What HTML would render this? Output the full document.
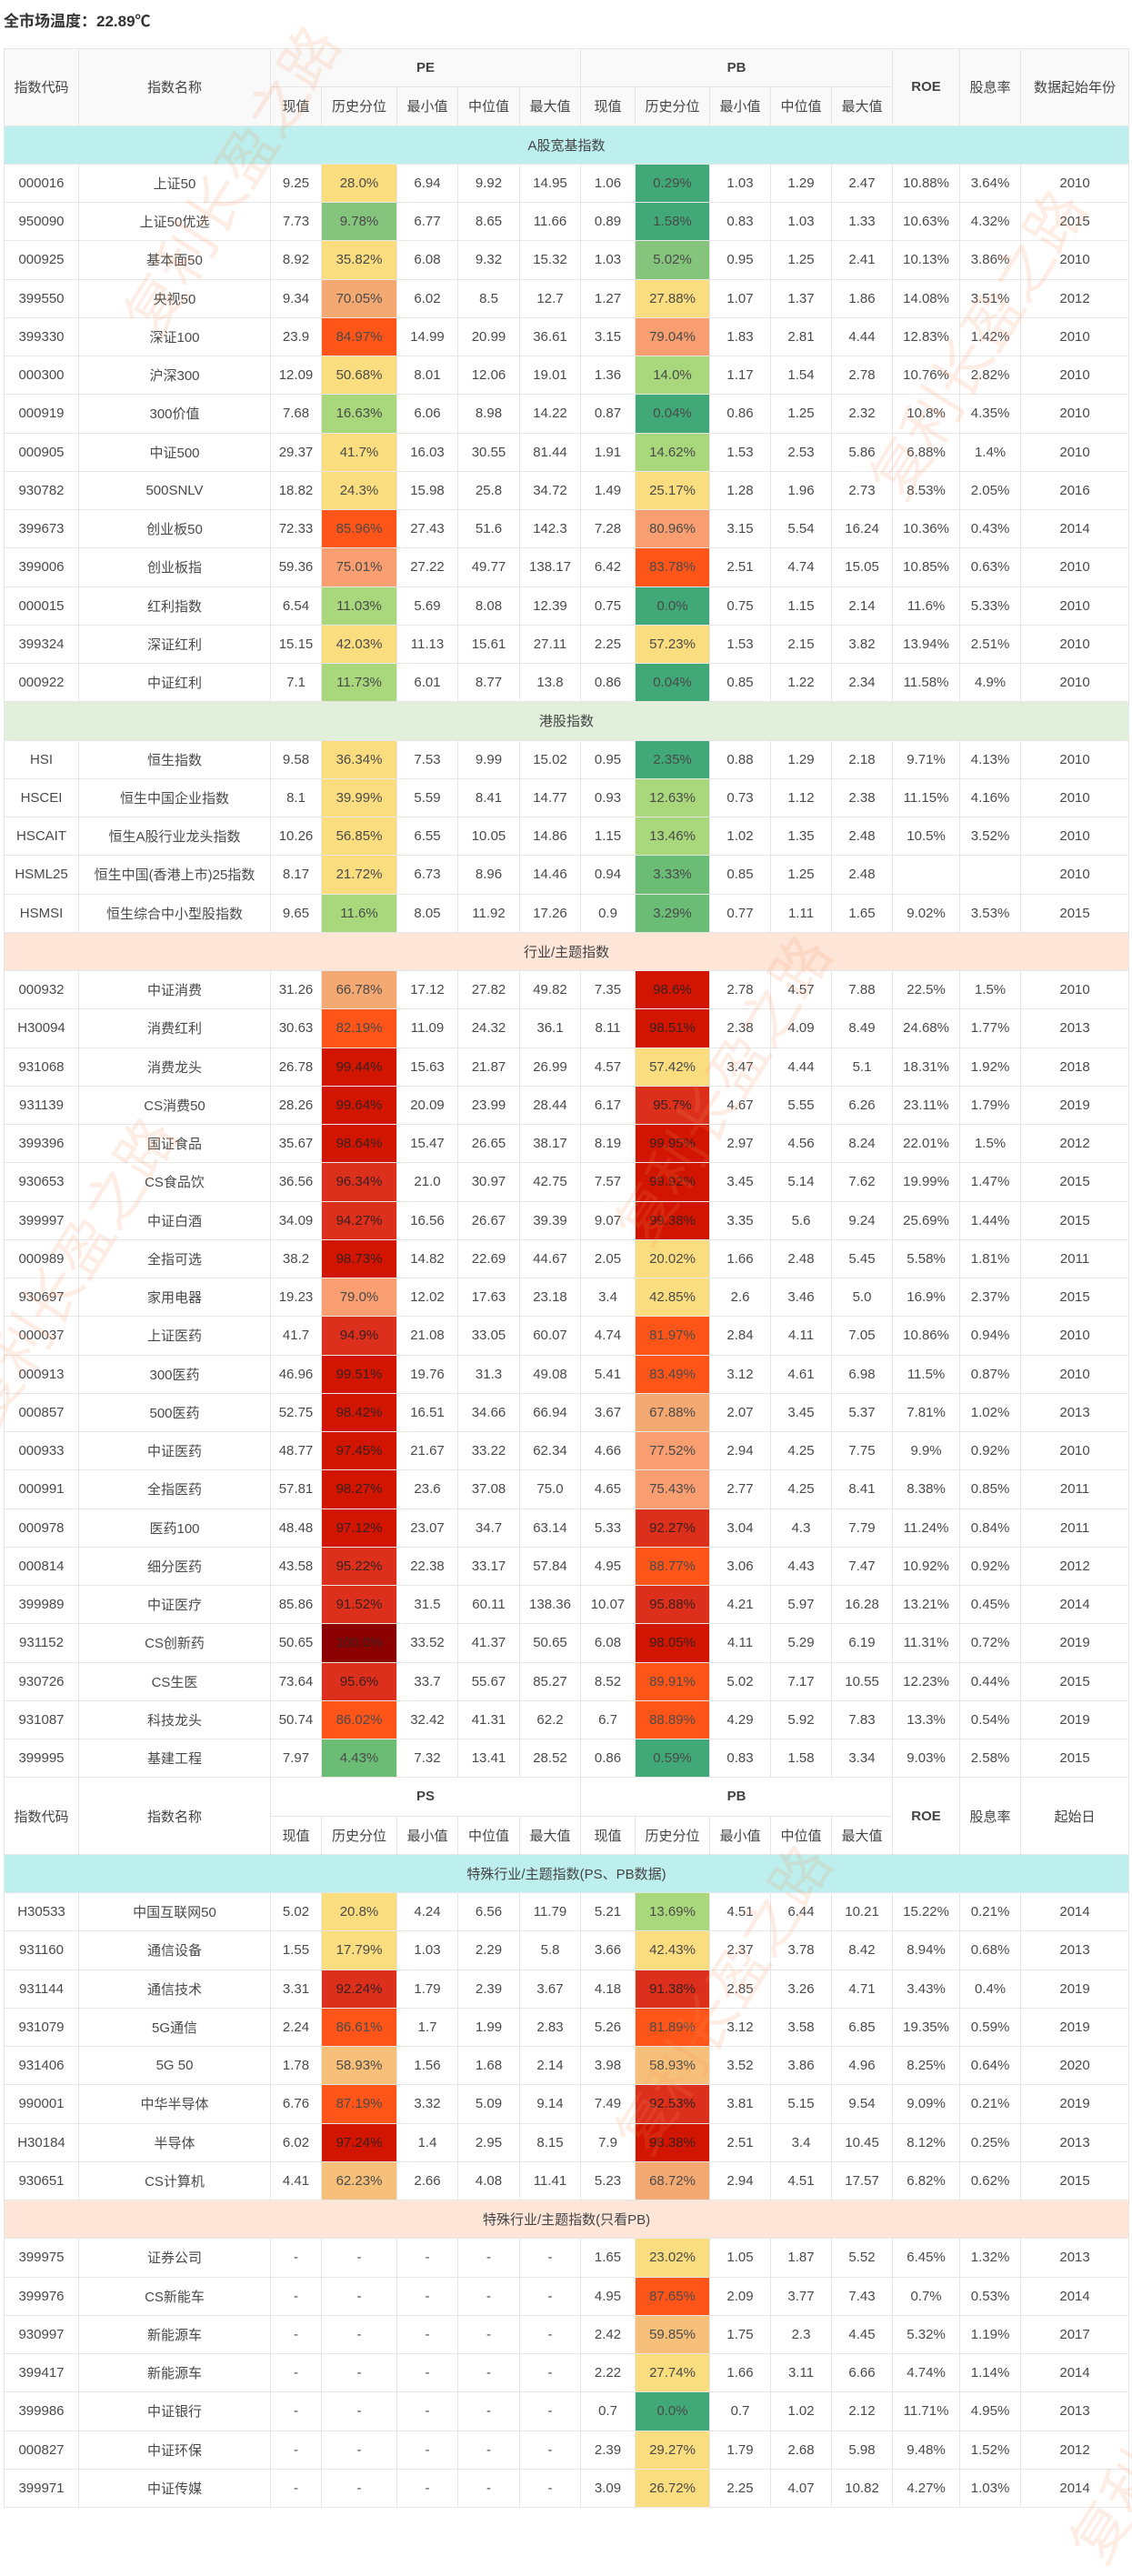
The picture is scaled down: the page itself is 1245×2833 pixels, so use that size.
<!DOCTYPE html>
<html><head><meta charset="utf-8">
<style>
body{margin:0;width:1245px;height:2818px;background:#fff;position:relative;overflow:hidden;font-family:"Liberation Sans","Noto Sans CJK SC",sans-serif;color:#4a4a4a}
.t{position:absolute;left:4px;top:9px;font-size:17px;font-weight:bold;color:#333}
table{position:absolute;left:4px;top:53px;border-collapse:collapse;table-layout:fixed;width:1237px;font-size:15px}
td,th{border:1px solid #e6e6e6;height:41.25px;padding:0;text-align:center;white-space:nowrap;overflow:hidden}
th{font-weight:normal;color:#444;background:#f9f9f9}
th.b{font-weight:bold}
.h2 th{background:#fff}
.sa td{background:#bdefee;color:#444}
.sh td{background:#e2efda;color:#444}
.si td{background:#fde5d8;color:#444}
.g0{background:#41a877}.g1{background:#6bbd76}.g2{background:#85c47d}.g3{background:#a8d87b}
.y{background:#fadd7f}.o1{background:#f7c07a}.o2{background:#f4a872}.o3{background:#f99e70}
.r1{background:#ff5518}.r2{background:#dc2f1c}.r3{background:#d11500}.r4{background:#8b0000}
.r2,.r3,.r4{color:#3a2020}
.wm{position:absolute;font-size:64px;color:rgba(250,140,90,0.16);transform:rotate(-58deg);white-space:nowrap;pointer-events:none;font-family:"Noto Sans CJK SC",sans-serif}
</style></head><body>
<div class="t">全市场温度：22.89℃</div>
<table>
<colgroup><col style="width:82px"><col style="width:211px"><col style="width:56px"><col style="width:83px"><col style="width:67px"><col style="width:68px"><col style="width:67px"><col style="width:60px"><col style="width:82px"><col style="width:67px"><col style="width:67px"><col style="width:67px"><col style="width:74px"><col style="width:67px"><col style="width:119px"></colgroup>
<tr><th rowspan="2">指数代码</th><th rowspan="2">指数名称</th><th colspan="5" class="b">PE</th><th colspan="5" class="b">PB</th><th rowspan="2" class="b">ROE</th><th rowspan="2">股息率</th><th rowspan="2">数据起始年份</th></tr>
<tr><th>现值</th><th>历史分位</th><th>最小值</th><th>中位值</th><th>最大值</th><th>现值</th><th>历史分位</th><th>最小值</th><th>中位值</th><th>最大值</th></tr>
<tr class="sa"><td colspan="15">A股宽基指数</td></tr>
<tr><td>000016</td><td>上证50</td><td>9.25</td><td class="y">28.0%</td><td>6.94</td><td>9.92</td><td>14.95</td><td>1.06</td><td class="g0">0.29%</td><td>1.03</td><td>1.29</td><td>2.47</td><td>10.88%</td><td>3.64%</td><td>2010</td></tr>
<tr><td>950090</td><td>上证50优选</td><td>7.73</td><td class="g2">9.78%</td><td>6.77</td><td>8.65</td><td>11.66</td><td>0.89</td><td class="g0">1.58%</td><td>0.83</td><td>1.03</td><td>1.33</td><td>10.63%</td><td>4.32%</td><td>2015</td></tr>
<tr><td>000925</td><td>基本面50</td><td>8.92</td><td class="y">35.82%</td><td>6.08</td><td>9.32</td><td>15.32</td><td>1.03</td><td class="g2">5.02%</td><td>0.95</td><td>1.25</td><td>2.41</td><td>10.13%</td><td>3.86%</td><td>2010</td></tr>
<tr><td>399550</td><td>央视50</td><td>9.34</td><td class="o2">70.05%</td><td>6.02</td><td>8.5</td><td>12.7</td><td>1.27</td><td class="y">27.88%</td><td>1.07</td><td>1.37</td><td>1.86</td><td>14.08%</td><td>3.51%</td><td>2012</td></tr>
<tr><td>399330</td><td>深证100</td><td>23.9</td><td class="r1">84.97%</td><td>14.99</td><td>20.99</td><td>36.61</td><td>3.15</td><td class="o3">79.04%</td><td>1.83</td><td>2.81</td><td>4.44</td><td>12.83%</td><td>1.42%</td><td>2010</td></tr>
<tr><td>000300</td><td>沪深300</td><td>12.09</td><td class="y">50.68%</td><td>8.01</td><td>12.06</td><td>19.01</td><td>1.36</td><td class="g3">14.0%</td><td>1.17</td><td>1.54</td><td>2.78</td><td>10.76%</td><td>2.82%</td><td>2010</td></tr>
<tr><td>000919</td><td>300价值</td><td>7.68</td><td class="g3">16.63%</td><td>6.06</td><td>8.98</td><td>14.22</td><td>0.87</td><td class="g0">0.04%</td><td>0.86</td><td>1.25</td><td>2.32</td><td>10.8%</td><td>4.35%</td><td>2010</td></tr>
<tr><td>000905</td><td>中证500</td><td>29.37</td><td class="y">41.7%</td><td>16.03</td><td>30.55</td><td>81.44</td><td>1.91</td><td class="g3">14.62%</td><td>1.53</td><td>2.53</td><td>5.86</td><td>6.88%</td><td>1.4%</td><td>2010</td></tr>
<tr><td>930782</td><td>500SNLV</td><td>18.82</td><td class="y">24.3%</td><td>15.98</td><td>25.8</td><td>34.72</td><td>1.49</td><td class="y">25.17%</td><td>1.28</td><td>1.96</td><td>2.73</td><td>8.53%</td><td>2.05%</td><td>2016</td></tr>
<tr><td>399673</td><td>创业板50</td><td>72.33</td><td class="r1">85.96%</td><td>27.43</td><td>51.6</td><td>142.3</td><td>7.28</td><td class="o3">80.96%</td><td>3.15</td><td>5.54</td><td>16.24</td><td>10.36%</td><td>0.43%</td><td>2014</td></tr>
<tr><td>399006</td><td>创业板指</td><td>59.36</td><td class="o3">75.01%</td><td>27.22</td><td>49.77</td><td>138.17</td><td>6.42</td><td class="r1">83.78%</td><td>2.51</td><td>4.74</td><td>15.05</td><td>10.85%</td><td>0.63%</td><td>2010</td></tr>
<tr><td>000015</td><td>红利指数</td><td>6.54</td><td class="g3">11.03%</td><td>5.69</td><td>8.08</td><td>12.39</td><td>0.75</td><td class="g0">0.0%</td><td>0.75</td><td>1.15</td><td>2.14</td><td>11.6%</td><td>5.33%</td><td>2010</td></tr>
<tr><td>399324</td><td>深证红利</td><td>15.15</td><td class="y">42.03%</td><td>11.13</td><td>15.61</td><td>27.11</td><td>2.25</td><td class="y">57.23%</td><td>1.53</td><td>2.15</td><td>3.82</td><td>13.94%</td><td>2.51%</td><td>2010</td></tr>
<tr><td>000922</td><td>中证红利</td><td>7.1</td><td class="g3">11.73%</td><td>6.01</td><td>8.77</td><td>13.8</td><td>0.86</td><td class="g0">0.04%</td><td>0.85</td><td>1.22</td><td>2.34</td><td>11.58%</td><td>4.9%</td><td>2010</td></tr>
<tr class="sh"><td colspan="15">港股指数</td></tr>
<tr><td>HSI</td><td>恒生指数</td><td>9.58</td><td class="y">36.34%</td><td>7.53</td><td>9.99</td><td>15.02</td><td>0.95</td><td class="g0">2.35%</td><td>0.88</td><td>1.29</td><td>2.18</td><td>9.71%</td><td>4.13%</td><td>2010</td></tr>
<tr><td>HSCEI</td><td>恒生中国企业指数</td><td>8.1</td><td class="y">39.99%</td><td>5.59</td><td>8.41</td><td>14.77</td><td>0.93</td><td class="g3">12.63%</td><td>0.73</td><td>1.12</td><td>2.38</td><td>11.15%</td><td>4.16%</td><td>2010</td></tr>
<tr><td>HSCAIT</td><td>恒生A股行业龙头指数</td><td>10.26</td><td class="y">56.85%</td><td>6.55</td><td>10.05</td><td>14.86</td><td>1.15</td><td class="g3">13.46%</td><td>1.02</td><td>1.35</td><td>2.48</td><td>10.5%</td><td>3.52%</td><td>2010</td></tr>
<tr><td>HSML25</td><td>恒生中国(香港上市)25指数</td><td>8.17</td><td class="y">21.72%</td><td>6.73</td><td>8.96</td><td>14.46</td><td>0.94</td><td class="g1">3.33%</td><td>0.85</td><td>1.25</td><td>2.48</td><td></td><td></td><td>2010</td></tr>
<tr><td>HSMSI</td><td>恒生综合中小型股指数</td><td>9.65</td><td class="g3">11.6%</td><td>8.05</td><td>11.92</td><td>17.26</td><td>0.9</td><td class="g1">3.29%</td><td>0.77</td><td>1.11</td><td>1.65</td><td>9.02%</td><td>3.53%</td><td>2015</td></tr>
<tr class="si"><td colspan="15">行业/主题指数</td></tr>
<tr><td>000932</td><td>中证消费</td><td>31.26</td><td class="o2">66.78%</td><td>17.12</td><td>27.82</td><td>49.82</td><td>7.35</td><td class="r3">98.6%</td><td>2.78</td><td>4.57</td><td>7.88</td><td>22.5%</td><td>1.5%</td><td>2010</td></tr>
<tr><td>H30094</td><td>消费红利</td><td>30.63</td><td class="r1">82.19%</td><td>11.09</td><td>24.32</td><td>36.1</td><td>8.11</td><td class="r3">98.51%</td><td>2.38</td><td>4.09</td><td>8.49</td><td>24.68%</td><td>1.77%</td><td>2013</td></tr>
<tr><td>931068</td><td>消费龙头</td><td>26.78</td><td class="r3">99.44%</td><td>15.63</td><td>21.87</td><td>26.99</td><td>4.57</td><td class="y">57.42%</td><td>3.47</td><td>4.44</td><td>5.1</td><td>18.31%</td><td>1.92%</td><td>2018</td></tr>
<tr><td>931139</td><td>CS消费50</td><td>28.26</td><td class="r3">99.64%</td><td>20.09</td><td>23.99</td><td>28.44</td><td>6.17</td><td class="r2">95.7%</td><td>4.67</td><td>5.55</td><td>6.26</td><td>23.11%</td><td>1.79%</td><td>2019</td></tr>
<tr><td>399396</td><td>国证食品</td><td>35.67</td><td class="r3">98.64%</td><td>15.47</td><td>26.65</td><td>38.17</td><td>8.19</td><td class="r3">99.95%</td><td>2.97</td><td>4.56</td><td>8.24</td><td>22.01%</td><td>1.5%</td><td>2012</td></tr>
<tr><td>930653</td><td>CS食品饮</td><td>36.56</td><td class="r2">96.34%</td><td>21.0</td><td>30.97</td><td>42.75</td><td>7.57</td><td class="r3">99.92%</td><td>3.45</td><td>5.14</td><td>7.62</td><td>19.99%</td><td>1.47%</td><td>2015</td></tr>
<tr><td>399997</td><td>中证白酒</td><td>34.09</td><td class="r2">94.27%</td><td>16.56</td><td>26.67</td><td>39.39</td><td>9.07</td><td class="r3">99.38%</td><td>3.35</td><td>5.6</td><td>9.24</td><td>25.69%</td><td>1.44%</td><td>2015</td></tr>
<tr><td>000989</td><td>全指可选</td><td>38.2</td><td class="r3">98.73%</td><td>14.82</td><td>22.69</td><td>44.67</td><td>2.05</td><td class="y">20.02%</td><td>1.66</td><td>2.48</td><td>5.45</td><td>5.58%</td><td>1.81%</td><td>2011</td></tr>
<tr><td>930697</td><td>家用电器</td><td>19.23</td><td class="o3">79.0%</td><td>12.02</td><td>17.63</td><td>23.18</td><td>3.4</td><td class="y">42.85%</td><td>2.6</td><td>3.46</td><td>5.0</td><td>16.9%</td><td>2.37%</td><td>2015</td></tr>
<tr><td>000037</td><td>上证医药</td><td>41.7</td><td class="r2">94.9%</td><td>21.08</td><td>33.05</td><td>60.07</td><td>4.74</td><td class="r1">81.97%</td><td>2.84</td><td>4.11</td><td>7.05</td><td>10.86%</td><td>0.94%</td><td>2010</td></tr>
<tr><td>000913</td><td>300医药</td><td>46.96</td><td class="r3">99.51%</td><td>19.76</td><td>31.3</td><td>49.08</td><td>5.41</td><td class="r1">83.49%</td><td>3.12</td><td>4.61</td><td>6.98</td><td>11.5%</td><td>0.87%</td><td>2010</td></tr>
<tr><td>000857</td><td>500医药</td><td>52.75</td><td class="r3">98.42%</td><td>16.51</td><td>34.66</td><td>66.94</td><td>3.67</td><td class="o2">67.88%</td><td>2.07</td><td>3.45</td><td>5.37</td><td>7.81%</td><td>1.02%</td><td>2013</td></tr>
<tr><td>000933</td><td>中证医药</td><td>48.77</td><td class="r3">97.45%</td><td>21.67</td><td>33.22</td><td>62.34</td><td>4.66</td><td class="o3">77.52%</td><td>2.94</td><td>4.25</td><td>7.75</td><td>9.9%</td><td>0.92%</td><td>2010</td></tr>
<tr><td>000991</td><td>全指医药</td><td>57.81</td><td class="r3">98.27%</td><td>23.6</td><td>37.08</td><td>75.0</td><td>4.65</td><td class="o3">75.43%</td><td>2.77</td><td>4.25</td><td>8.41</td><td>8.38%</td><td>0.85%</td><td>2011</td></tr>
<tr><td>000978</td><td>医药100</td><td>48.48</td><td class="r3">97.12%</td><td>23.07</td><td>34.7</td><td>63.14</td><td>5.33</td><td class="r2">92.27%</td><td>3.04</td><td>4.3</td><td>7.79</td><td>11.24%</td><td>0.84%</td><td>2011</td></tr>
<tr><td>000814</td><td>细分医药</td><td>43.58</td><td class="r2">95.22%</td><td>22.38</td><td>33.17</td><td>57.84</td><td>4.95</td><td class="r1">88.77%</td><td>3.06</td><td>4.43</td><td>7.47</td><td>10.92%</td><td>0.92%</td><td>2012</td></tr>
<tr><td>399989</td><td>中证医疗</td><td>85.86</td><td class="r2">91.52%</td><td>31.5</td><td>60.11</td><td>138.36</td><td>10.07</td><td class="r2">95.88%</td><td>4.21</td><td>5.97</td><td>16.28</td><td>13.21%</td><td>0.45%</td><td>2014</td></tr>
<tr><td>931152</td><td>CS创新药</td><td>50.65</td><td class="r4">100.0%</td><td>33.52</td><td>41.37</td><td>50.65</td><td>6.08</td><td class="r3">98.05%</td><td>4.11</td><td>5.29</td><td>6.19</td><td>11.31%</td><td>0.72%</td><td>2019</td></tr>
<tr><td>930726</td><td>CS生医</td><td>73.64</td><td class="r2">95.6%</td><td>33.7</td><td>55.67</td><td>85.27</td><td>8.52</td><td class="r1">89.91%</td><td>5.02</td><td>7.17</td><td>10.55</td><td>12.23%</td><td>0.44%</td><td>2015</td></tr>
<tr><td>931087</td><td>科技龙头</td><td>50.74</td><td class="r1">86.02%</td><td>32.42</td><td>41.31</td><td>62.2</td><td>6.7</td><td class="r1">88.89%</td><td>4.29</td><td>5.92</td><td>7.83</td><td>13.3%</td><td>0.54%</td><td>2019</td></tr>
<tr><td>399995</td><td>基建工程</td><td>7.97</td><td class="g1">4.43%</td><td>7.32</td><td>13.41</td><td>28.52</td><td>0.86</td><td class="g0">0.59%</td><td>0.83</td><td>1.58</td><td>3.34</td><td>9.03%</td><td>2.58%</td><td>2015</td></tr>
<tr class="h2"><th rowspan="2">指数代码</th><th rowspan="2">指数名称</th><th colspan="5" class="b">PS</th><th colspan="5" class="b">PB</th><th rowspan="2" class="b">ROE</th><th rowspan="2">股息率</th><th rowspan="2">起始日</th></tr>
<tr class="h2"><th>现值</th><th>历史分位</th><th>最小值</th><th>中位值</th><th>最大值</th><th>现值</th><th>历史分位</th><th>最小值</th><th>中位值</th><th>最大值</th></tr>
<tr class="sa"><td colspan="15">特殊行业/主题指数(PS、PB数据)</td></tr>
<tr><td>H30533</td><td>中国互联网50</td><td>5.02</td><td class="y">20.8%</td><td>4.24</td><td>6.56</td><td>11.79</td><td>5.21</td><td class="g3">13.69%</td><td>4.51</td><td>6.44</td><td>10.21</td><td>15.22%</td><td>0.21%</td><td>2014</td></tr>
<tr><td>931160</td><td>通信设备</td><td>1.55</td><td class="y">17.79%</td><td>1.03</td><td>2.29</td><td>5.8</td><td>3.66</td><td class="y">42.43%</td><td>2.37</td><td>3.78</td><td>8.42</td><td>8.94%</td><td>0.68%</td><td>2013</td></tr>
<tr><td>931144</td><td>通信技术</td><td>3.31</td><td class="r2">92.24%</td><td>1.79</td><td>2.39</td><td>3.67</td><td>4.18</td><td class="r2">91.38%</td><td>2.85</td><td>3.26</td><td>4.71</td><td>3.43%</td><td>0.4%</td><td>2019</td></tr>
<tr><td>931079</td><td>5G通信</td><td>2.24</td><td class="r1">86.61%</td><td>1.7</td><td>1.99</td><td>2.83</td><td>5.26</td><td class="r1">81.89%</td><td>3.12</td><td>3.58</td><td>6.85</td><td>19.35%</td><td>0.59%</td><td>2019</td></tr>
<tr><td>931406</td><td>5G 50</td><td>1.78</td><td class="o1">58.93%</td><td>1.56</td><td>1.68</td><td>2.14</td><td>3.98</td><td class="o1">58.93%</td><td>3.52</td><td>3.86</td><td>4.96</td><td>8.25%</td><td>0.64%</td><td>2020</td></tr>
<tr><td>990001</td><td>中华半导体</td><td>6.76</td><td class="r1">87.19%</td><td>3.32</td><td>5.09</td><td>9.14</td><td>7.49</td><td class="r2">92.53%</td><td>3.81</td><td>5.15</td><td>9.54</td><td>9.09%</td><td>0.21%</td><td>2019</td></tr>
<tr><td>H30184</td><td>半导体</td><td>6.02</td><td class="r3">97.24%</td><td>1.4</td><td>2.95</td><td>8.15</td><td>7.9</td><td class="r3">98.38%</td><td>2.51</td><td>3.4</td><td>10.45</td><td>8.12%</td><td>0.25%</td><td>2013</td></tr>
<tr><td>930651</td><td>CS计算机</td><td>4.41</td><td class="o1">62.23%</td><td>2.66</td><td>4.08</td><td>11.41</td><td>5.23</td><td class="o2">68.72%</td><td>2.94</td><td>4.51</td><td>17.57</td><td>6.82%</td><td>0.62%</td><td>2015</td></tr>
<tr class="si"><td colspan="15">特殊行业/主题指数(只看PB)</td></tr>
<tr><td>399975</td><td>证券公司</td><td>-</td><td>-</td><td>-</td><td>-</td><td>-</td><td>1.65</td><td class="y">23.02%</td><td>1.05</td><td>1.87</td><td>5.52</td><td>6.45%</td><td>1.32%</td><td>2013</td></tr>
<tr><td>399976</td><td>CS新能车</td><td>-</td><td>-</td><td>-</td><td>-</td><td>-</td><td>4.95</td><td class="r1">87.65%</td><td>2.09</td><td>3.77</td><td>7.43</td><td>0.7%</td><td>0.53%</td><td>2014</td></tr>
<tr><td>930997</td><td>新能源车</td><td>-</td><td>-</td><td>-</td><td>-</td><td>-</td><td>2.42</td><td class="o1">59.85%</td><td>1.75</td><td>2.3</td><td>4.45</td><td>5.32%</td><td>1.19%</td><td>2017</td></tr>
<tr><td>399417</td><td>新能源车</td><td>-</td><td>-</td><td>-</td><td>-</td><td>-</td><td>2.22</td><td class="y">27.74%</td><td>1.66</td><td>3.11</td><td>6.66</td><td>4.74%</td><td>1.14%</td><td>2014</td></tr>
<tr><td>399986</td><td>中证银行</td><td>-</td><td>-</td><td>-</td><td>-</td><td>-</td><td>0.7</td><td class="g0">0.0%</td><td>0.7</td><td>1.02</td><td>2.12</td><td>11.71%</td><td>4.95%</td><td>2013</td></tr>
<tr><td>000827</td><td>中证环保</td><td>-</td><td>-</td><td>-</td><td>-</td><td>-</td><td>2.39</td><td class="y">29.27%</td><td>1.79</td><td>2.68</td><td>5.98</td><td>9.48%</td><td>1.52%</td><td>2012</td></tr>
<tr><td>399971</td><td>中证传媒</td><td>-</td><td>-</td><td>-</td><td>-</td><td>-</td><td>3.09</td><td class="y">26.72%</td><td>2.25</td><td>4.07</td><td>10.82</td><td>4.27%</td><td>1.03%</td><td>2014</td></tr>
</table>
<div class="wm" style="left:60px;top:150px">复利长盈之路</div>
<div class="wm" style="left:880px;top:330px">复利长盈之路</div>
<div class="wm" style="left:-120px;top:1350px">复利长盈之路</div>
<div class="wm" style="left:600px;top:1150px">复利长盈之路</div>
<div class="wm" style="left:600px;top:2150px">复利长盈之路</div>
<div class="wm" style="left:1100px;top:2600px">复利长盈之路</div>
</body></html>
